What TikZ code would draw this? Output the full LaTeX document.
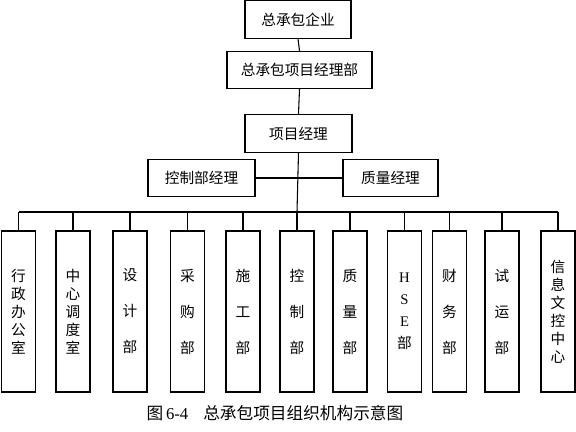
\documentclass[tikz,border=0pt]{standalone}
\usepackage{fontspec}
\setmainfont{Liberation Serif}
\newfontfamily\cjk{Noto Sans CJK SC}
\usetikzlibrary{positioning}

\begin{document}
\begin{tikzpicture}[
    x=0.75pt, y=-0.75pt,
    line width=0.8pt,
    box/.style={
        rectangle, draw=black, minimum height=28pt,
        inner sep=2pt, font=\cjk\fontsize{11}{13}\selectfont
    },
    dept/.style={
        rectangle, draw=black, minimum width=25.5pt, minimum height=120.75pt,
        inner sep=0pt, align=center, text width=20pt,
        font=\cjk\fontsize{11}{13.5}\selectfont
    },
    sparse/.style={dept, font=\cjk\fontsize{11}{27}\selectfont},
    caption/.style={font=\cjk\fontsize{12.5}{14}\selectfont}
]
\useasboundingbox (0,0) rectangle (576,432);

%% Top chain
\node[box, minimum width=79.5pt] (corp) at (298,19.5) {总承包企业};
\node[box, minimum width=108.75pt] (dept) at (299.5,70) {总承包项目经理部};
\node[box, minimum width=80.25pt] (pm) at (298.5,133.5) {项目经理};

%% Deputies
\node[box, minimum width=80.25pt] (ctrlmgr) at (201.5,178) {控制部经理};
\node[box, minimum width=71.25pt] (qamgr) at (390.5,178) {质量经理};

%% Departments
\node[dept] (d1) at (18.5,311.5) {行\\政\\办\\公\\室};
\node[dept] (d2) at (73,311.5) {中\\心\\调\\度\\室};
\node[sparse] (d3) at (130,311.5) {设\\计\\部};
\node[sparse] (d4) at (187.5,311.5) {采\\购\\部};
\node[sparse] (d5) at (243,311.5) {施\\工\\部};
\node[sparse] (d6) at (297,311.5) {控\\制\\部};
\node[sparse] (d7) at (350,311.5) {质\\量\\部};
\node[dept, font=\cjk\fontsize{11}{16.5}\selectfont] (d8) at (404.5,311.5)
    {{\rmfamily H}\\{\rmfamily S}\\{\rmfamily E}\\部};
\node[sparse] (d9) at (449.5,311.5) {财\\务\\部};
\node[sparse] (d10) at (502,311.5) {试\\运\\部};
\node[dept] (d11) at (558,311.5) {信\\息\\文\\控\\中\\心};

%% Caption
\node[caption] (cap) at (275,413) {图\,{\rmfamily 6-4}\hspace{0.9em}总承包项目组织机构示意图};

%% Connectors
\coordinate (bus) at (297,212);
\draw (corp.south) -- (dept.north);
\draw (dept.south) -- (pm.north);
\draw (pm.south) -- (bus);
\draw (ctrlmgr.east) -- (qamgr.west);
\draw (d1.north |- bus) -- (d11.north |- bus);
\draw (d1.north) -- (d1.north |- bus);
\draw (d2.north) -- (d2.north |- bus);
\draw (d3.north) -- (d3.north |- bus);
\draw (d4.north) -- (d4.north |- bus);
\draw (d5.north) -- (d5.north |- bus);
\draw (d6.north) -- (d6.north |- bus);
\draw (d7.north) -- (d7.north |- bus);
\draw (d8.north) -- (d8.north |- bus);
\draw (d9.north) -- (d9.north |- bus);
\draw (d10.north) -- (d10.north |- bus);
\draw (d11.north) -- (d11.north |- bus);

\end{tikzpicture}
\end{document}
